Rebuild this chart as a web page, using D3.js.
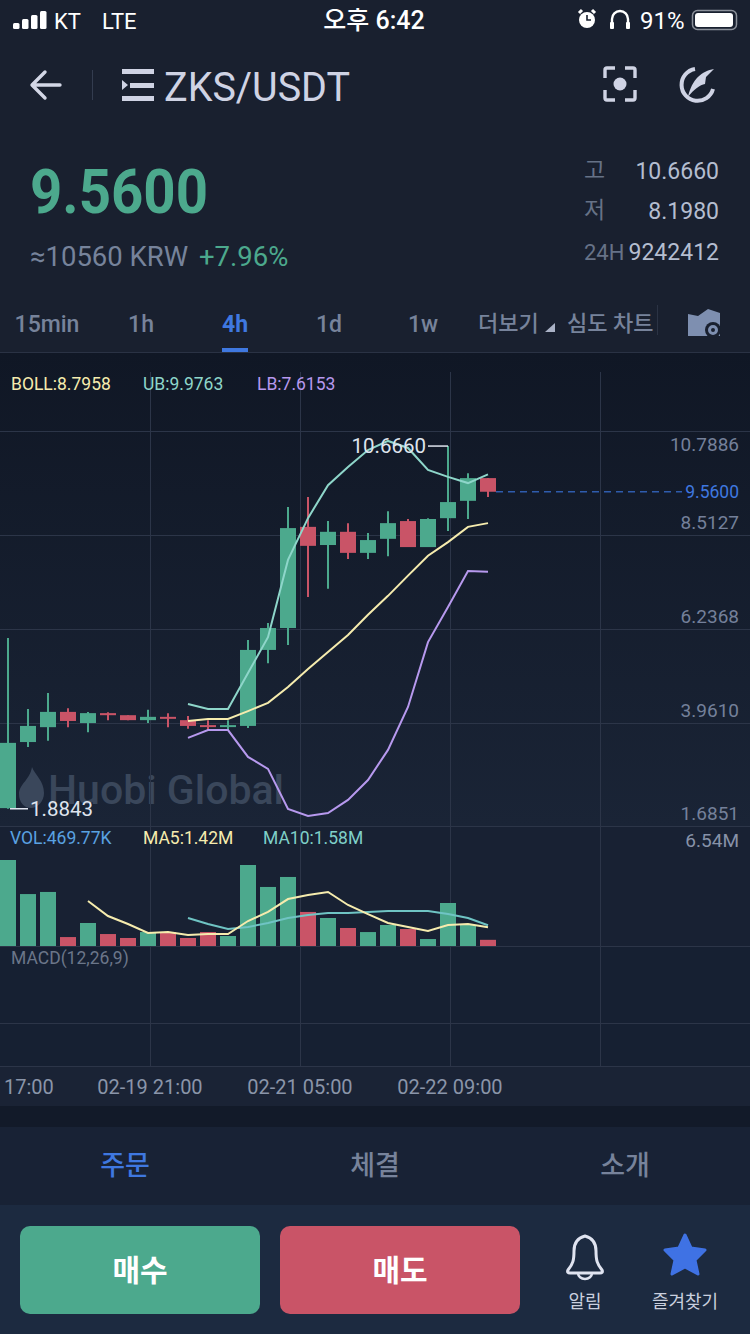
<!DOCTYPE html>
<html>
<head>
<meta charset="utf-8">
<script src="https://cdn.jsdelivr.net/npm/d3@7/dist/d3.min.js"></script>
<style>
html, body { margin: 0; padding: 0; background: #19202f; }
svg { display: block; }
text { font-family: Roboto, "Noto Sans CJK KR", sans-serif; }
</style>
</head>
<body>
<svg id="chart" width="750" height="1334"></svg>
<script>
// candles, oldest first
var opens  = [1.90, 3.50, 3.86, 4.23, 3.96, 4.20, 4.15, 4.03, 4.11, 4.03, 3.91, 3.88, 3.89, 5.73, 6.26, 8.71, 8.27, 8.59, 8.08, 8.42, 8.85, 8.22, 8.92, 9.34, 9.89];
var closes = [3.48, 3.89, 4.23, 4.01, 4.20, 4.15, 4.03, 4.11, 4.08, 3.89, 3.89, 3.91, 5.73, 6.26, 8.68, 8.25, 8.59, 8.08, 8.39, 8.80, 8.22, 8.90, 9.31, 9.89, 9.56];
var highs  = [6.02, 4.30, 4.69, 4.32, 4.23, 4.22, 4.15, 4.28, 4.20, 4.13, 4.03, 4.03, 5.97, 6.38, 9.19, 9.43, 8.85, 8.80, 8.56, 9.09, 8.90, 8.92, 10.666, 10.01, 9.89];
var lows   = [1.8843, 3.38, 3.53, 3.86, 3.74, 4.03, 4.03, 3.96, 3.86, 3.82, 3.79, 3.77, 3.84, 5.41, 5.85, 7.01, 7.21, 7.93, 7.93, 8.00, 8.22, 8.22, 8.61, 8.90, 9.43];

// bollinger bands start at candle 9
var bollMid = [4.01, 4.06, 4.06, 4.25, 4.45, 4.83, 5.27, 5.68, 6.09, 6.58, 7.04, 7.53, 8.01, 8.34, 8.71, 8.80];
var bollUp  = [4.42, 4.30, 4.30, 5.17, 6.04, 7.91, 8.92, 9.72, 10.16, 10.57, 10.79, 10.62, 10.09, 9.92, 9.77, 9.98];
var bollLow = [3.60, 3.79, 3.79, 3.14, 2.85, 1.88, 1.71, 1.78, 2.10, 2.58, 3.31, 4.35, 5.92, 6.77, 7.64, 7.62];

// volume in millions, ma5 starts at candle 4, ma10 at candle 9
var volumes = [6.54, 3.95, 4.11, 0.68, 1.75, 0.91, 0.61, 1.06, 1.06, 0.61, 1.06, 0.76, 6.16, 4.49, 5.25, 2.59, 2.13, 1.37, 1.06, 1.60, 1.29, 0.53, 3.27, 1.60, 0.47];
var ma5  = [3.42, 2.28, 1.67, 0.99, 1.06, 0.84, 0.91, 0.91, 1.90, 2.59, 3.57, 3.88, 4.11, 3.12, 2.43, 1.75, 1.44, 1.14, 1.60, 1.67, 1.42];
var ma10 = [2.13, 1.67, 1.29, 1.44, 1.75, 2.13, 2.36, 2.51, 2.51, 2.59, 2.66, 2.66, 2.66, 2.43, 2.13, 1.58];

var priceTicks = [10.7886, 8.5127, 6.2368, 3.9610, 1.6851];
var timeLabels = ["17:00", "02-19 21:00", "02-21 05:00", "02-22 09:00"];
var periods = ["15min", "1h", "4h", "1d", "1w"];
var lastPrice = 9.56;

var GREEN = "#4ca98d", RED = "#c95467", BLUE = "#3f78e0", GREY = "#77839b";
var GRID = "#2c3548", YELLOW = "#f6ecae", TEAL = "#8ed6ca", PURPLE = "#b799ee";

var svg = d3.select("#chart");
var defs = svg.append("defs");
var grad = defs.append("linearGradient").attr("id", "panel").attr("x1", 0).attr("x2", 0).attr("y1", 0).attr("y2", 1);
grad.append("stop").attr("offset", "0%").attr("stop-color", "#101725");
grad.append("stop").attr("offset", "100%").attr("stop-color", "#1a2436");

function label(g, x, y, str, size, color, anchor, weight) {
	return g.append("text")
		.attr("x", x).attr("y", y)
		.attr("font-size", size)
		.attr("fill", color)
		.attr("text-anchor", anchor || "start")
		.attr("font-weight", weight || 400)
		.text(str);
}

// backgrounds
svg.append("rect").attr("width", 750).attr("height", 1334).attr("fill", "#19202f");
svg.append("rect").attr("y", 353).attr("width", 750).attr("height", 473).attr("fill", "url(#panel)");
svg.append("rect").attr("y", 826).attr("width", 750).attr("height", 120).attr("fill", "#182133");
svg.append("rect").attr("y", 946).attr("width", 750).attr("height", 120).attr("fill", "#162032");
svg.append("rect").attr("y", 1066).attr("width", 750).attr("height", 40).attr("fill", "#1a2335");
svg.append("rect").attr("y", 1106).attr("width", 750).attr("height", 21).attr("fill", "#121a29");
svg.append("rect").attr("y", 1127).attr("width", 750).attr("height", 78).attr("fill", "#182235");
svg.append("rect").attr("y", 1205).attr("width", 750).attr("height", 129).attr("fill", "#1c2a40");

// status bar
var bar = svg.append("g");
bar.selectAll("rect.sig").data([5, 9, 13, 17]).enter().append("rect")
	.attr("x", function(d, i) { return 13 + i * 9; })
	.attr("y", function(d) { return 29 - d - 1; })
	.attr("width", 6.5).attr("height", function(d) { return d + 1; })
	.attr("rx", 1.5).attr("fill", "#fff");
label(bar, 54, 29, "KT", 22, "#fff");
label(bar, 102, 29, "LTE", 22, "#fff");
label(bar, 374, 29, "오후 6:42", 25, "#fff", "middle", 500);
label(bar, 640, 29, "91%", 24, "#fff");
bar.append("circle").attr("cx", 587).attr("cy", 20).attr("r", 8).attr("fill", "#fff");
bar.append("path").attr("d", "M587 15v5h4").attr("stroke", "#19202f").attr("stroke-width", 1.6).attr("fill", "none");
bar.append("path").attr("d", "M579 13l3-3M595 13l-3-3").attr("stroke", "#fff").attr("stroke-width", 3);
bar.append("path").attr("d", "M612 28v-9a8 8 0 0 1 16 0v9").attr("stroke", "#fff").attr("stroke-width", 2.4).attr("fill", "none");
bar.append("rect").attr("x", 610).attr("y", 22).attr("width", 4).attr("height", 7).attr("rx", 1).attr("fill", "#fff");
bar.append("rect").attr("x", 626).attr("y", 22).attr("width", 4).attr("height", 7).attr("rx", 1).attr("fill", "#fff");
bar.append("rect").attr("x", 692.5).attr("y", 10.5).attr("width", 44).attr("height", 19).attr("rx", 5).attr("fill", "none").attr("stroke", "#8b909a").attr("stroke-width", 1.5);
bar.append("rect").attr("x", 695).attr("y", 13).attr("width", 38).attr("height", 14).attr("rx", 3).attr("fill", "#fff");

// title row
var head = svg.append("g");
head.append("path").attr("d", "M60 85H33M45 72L32 85L45 98").attr("stroke", "#d3d7e6").attr("stroke-width", 3.4).attr("fill", "none").attr("stroke-linecap", "round").attr("stroke-linejoin", "round");
head.append("line").attr("x1", 92.5).attr("x2", 92.5).attr("y1", 70).attr("y2", 100).attr("stroke", "#333c4f");
head.append("path").attr("d", "M122 69h32v5h-32zM130 83h24v5h-24zM122 96h32v5h-32zM122 80l6 5-6 5z").attr("fill", "#cfd3e4");
label(head, 164, 101, "ZKS/USDT", 40, "#cfd3e4").attr("textLength", 186).attr("lengthAdjust", "spacingAndGlyphs");
head.append("path").attr("d", "M605 78v-8a2 2 0 0 1 2-2h8M625 68h8a2 2 0 0 1 2 2v8M635 90v8a2 2 0 0 1-2 2h-8M615 100h-8a2 2 0 0 1-2-2v-8").attr("stroke", "#cfd3e4").attr("stroke-width", 3.4).attr("fill", "none");
head.append("circle").attr("cx", 620).attr("cy", 84).attr("r", 6.5).attr("fill", "#cfd3e4");
head.append("path").attr("d", "M695 69a16 16 0 1 0 18 20").attr("stroke", "#cfd3e4").attr("stroke-width", 4).attr("fill", "none");
head.append("path").attr("d", "M714 69c-12 2-22 10-26 28c6-8 12-12 17-13l1-7z").attr("fill", "#cfd3e4");

// price summary
var sum = svg.append("g");
label(sum, 30, 213, "9.5600", 62, GREEN, "start", 700).attr("textLength", 178).attr("lengthAdjust", "spacingAndGlyphs");
label(sum, 30, 266, "≈10560 KRW", 27.5, "#76839b");
label(sum, 199, 266, "+7.96%", 27.5, GREEN);
label(sum, 584, 178, "고", 23, "#667287");
label(sum, 584, 218, "저", 23, "#667287");
label(sum, 584, 260, "24H", 22, "#667287");
label(sum, 719, 179, "10.6660", 23, "#b4bdd0", "end");
label(sum, 719, 219, "8.1980", 23, "#b4bdd0", "end");
label(sum, 719, 260, "9242412", 23, "#b4bdd0", "end");

// period tabs
var tabX = d3.scalePoint().domain(periods).range([47, 423]);
var tabs = svg.append("g");
tabs.selectAll("text").data(periods).enter().append("text")
	.attr("x", function(d) { return tabX(d); })
	.attr("y", 332)
	.attr("text-anchor", "middle")
	.attr("font-size", 23)
	.attr("font-weight", function(d) { return d === "4h" ? 700 : 500; })
	.attr("fill", function(d) { return d === "4h" ? BLUE : GREY; })
	.text(function(d) { return d; });
svg.append("rect").attr("x", 222).attr("y", 348).attr("width", 26).attr("height", 4).attr("fill", BLUE);
label(svg, 478, 331, "더보기", 22, GREY, "start", 500);
svg.append("path").attr("d", "M545 332h10v-9z").attr("fill", "#aab2c6");
label(svg, 567, 331, "심도 차트", 22, GREY, "start", 500);
svg.append("line").attr("x1", 657.5).attr("x2", 657.5).attr("y1", 305).attr("y2", 335).attr("stroke", "#2b3344");
svg.append("path").attr("d", "M688 336v-22l10 2 10-7 12 4v23z").attr("fill", "#7e8fb0");
svg.append("circle").attr("cx", 713).attr("cy", 330).attr("r", 8).attr("fill", "#19202f");
svg.append("circle").attr("cx", 713).attr("cy", 330).attr("r", 3.5).attr("fill", "none").attr("stroke", "#7e8fb0").attr("stroke-width", 3);
svg.append("line").attr("x1", 0).attr("x2", 750).attr("y1", 352.5).attr("y2", 352.5).attr("stroke", "#2a3244");

// scales
var plotTop = 431, plotBottom = 826;
var x = d3.scaleLinear().domain([0, 24]).range([8, 488]);
var y = d3.scaleLinear().domain([1.6851, 10.7886]).range([817, 441]);
var volY = d3.scaleLinear().domain([0, 6.54]).range([946, 860]);
var gridX = d3.scaleLinear().domain([0, 5]).range([0, 750]);
var candleW = 16;

// watermark sits under everything
var mark = svg.append("g");
label(mark, 48, 804, "Huobi Global", 41, "#3a475b", "start", 500);
mark.append("path").attr("d", "M32 767c3 8 12 14 12 26c0 8-6 15-13 15c-7 0-12-6-12-14c0-10 11-14 13-27z").attr("fill", "#3a475b");

// grid
var gridRows = [plotTop, y(priceTicks[1]), y(priceTicks[2]), y(priceTicks[3]), plotBottom, 946, 1023, 1066];
svg.append("g").selectAll("line").data(gridRows).enter().append("line")
	.attr("x1", 0).attr("x2", 750)
	.attr("y1", function(d) { return Math.round(d) + 0.5; })
	.attr("y2", function(d) { return Math.round(d) + 0.5; })
	.attr("stroke", GRID);
svg.append("g").selectAll("line").data(d3.range(1, 5)).enter().append("line")
	.attr("x1", function(d) { return gridX(d) + 0.5; })
	.attr("x2", function(d) { return gridX(d) + 0.5; })
	.attr("y1", 372).attr("y2", 1066)
	.attr("stroke", GRID);

// candles
function candleColor(i) { return closes[i] >= opens[i] ? GREEN : RED; }
var candles = svg.append("g").selectAll("g").data(d3.range(opens.length)).enter().append("g");
candles.append("line")
	.attr("x1", function(i) { return x(i); })
	.attr("x2", function(i) { return x(i); })
	.attr("y1", function(i) { return y(highs[i]); })
	.attr("y2", function(i) { return y(lows[i]); })
	.attr("stroke", candleColor)
	.attr("stroke-width", 2);
candles.append("rect")
	.attr("x", function(i) { return x(i) - candleW / 2; })
	.attr("y", function(i) { return y(Math.max(opens[i], closes[i])); })
	.attr("width", candleW)
	.attr("height", function(i) { return Math.max(2, Math.abs(y(opens[i]) - y(closes[i]))); })
	.attr("fill", candleColor);

// lines
function drawLine(values, start, yScale, color) {
	var line = d3.line()
		.x(function(d, i) { return x(i + start); })
		.y(function(d) { return yScale(d); });
	svg.append("path").datum(values)
		.attr("d", line)
		.attr("fill", "none")
		.attr("stroke", color)
		.attr("stroke-width", 2);
}
drawLine(bollUp, 9, y, TEAL);
drawLine(bollLow, 9, y, PURPLE);
drawLine(bollMid, 9, y, YELLOW);

// last price
svg.append("line")
	.attr("x1", x(24) + candleW / 2).attr("x2", 682)
	.attr("y1", y(lastPrice)).attr("y2", y(lastPrice))
	.attr("stroke", "#2f5cad").attr("stroke-width", 1.5).attr("stroke-dasharray", "7 5");
label(svg, 739, y(lastPrice) + 6, "9.5600", 17.5, BLUE, "end");

// high / low annotations
var hiY = y(highs[22]), loY = y(lows[0]);
svg.append("line").attr("x1", x(22) - 20).attr("x2", x(22)).attr("y1", hiY).attr("y2", hiY).attr("stroke", "#dfe4ee").attr("stroke-width", 1.5);
label(svg, x(22) - 22, hiY + 7, "10.6660", 20.5, "#dfe4ee", "end");
svg.append("line").attr("x1", x(0) + 2).attr("x2", x(0) + 20).attr("y1", loY).attr("y2", loY).attr("stroke", "#dfe4ee").attr("stroke-width", 1.5);
label(svg, x(0) + 22, loY + 7, "1.8843", 20.5, "#dfe4ee");

// price axis labels, they sit just above their row
svg.append("g").selectAll("text").data(priceTicks).enter().append("text")
	.attr("x", 739)
	.attr("y", function(d, i) {
		if (i === 0) return plotTop + 20;
		if (i === priceTicks.length - 1) return plotBottom - 6;
		return y(d) - 6;
	})
	.attr("text-anchor", "end")
	.attr("font-size", 19)
	.attr("fill", "#74809a")
	.text(function(d) { return d.toFixed(4); });

// indicator legends
label(svg, 11, 390, "BOLL:8.7958", 17.5, YELLOW);
label(svg, 143, 390, "UB:9.9763", 17.5, TEAL);
label(svg, 257, 390, "LB:7.6153", 17.5, PURPLE);

// volume
svg.append("g").selectAll("rect").data(volumes).enter().append("rect")
	.attr("x", function(d, i) { return x(i) - candleW / 2; })
	.attr("y", function(d) { return volY(d); })
	.attr("width", candleW)
	.attr("height", function(d) { return volY(0) - volY(d); })
	.attr("fill", function(d, i) { return candleColor(i); });
drawLine(ma10, 9, volY, "#6fc4c4");
drawLine(ma5, 4, volY, YELLOW);

label(svg, 10, 844, "VOL:469.77K", 17.5, "#5aa2e2");
label(svg, 143, 844, "MA5:1.42M", 17.5, YELLOW);
label(svg, 263, 844, "MA10:1.58M", 17.5, "#7fd0c8");
label(svg, 739, 847, "6.54M", 19, "#8792a8", "end");
label(svg, 11, 964, "MACD(12,26,9)", 17.5, "#6b7689");

// time axis
svg.append("g").selectAll("text").data(timeLabels).enter().append("text")
	.attr("x", function(d, i) { return i === 0 ? 4 : gridX(i); })
	.attr("y", 1094)
	.attr("text-anchor", function(d, i) { return i === 0 ? "start" : "middle"; })
	.attr("font-size", 20)
	.attr("fill", "#8a95a9")
	.text(function(d) { return d; });

// lower tabs
label(svg, 125, 1175, "주문", 27, BLUE, "middle", 500);
label(svg, 375, 1175, "체결", 27, GREY, "middle", 500);
label(svg, 625, 1175, "소개", 27, GREY, "middle", 500);

// buttons
svg.append("rect").attr("x", 20).attr("y", 1226).attr("width", 240).attr("height", 88).attr("rx", 10).attr("fill", GREEN);
svg.append("rect").attr("x", 280).attr("y", 1226).attr("width", 240).attr("height", 88).attr("rx", 10).attr("fill", RED);
label(svg, 140, 1281, "매수", 30, "#fff", "middle", 700);
label(svg, 400, 1281, "매도", 30, "#fff", "middle", 700);

// bell and star
svg.append("path").attr("d", "M585 1236c-8 2-11 8-11 15c0 9-1 13-6 19c-1 2 0 3 2 3h30c2 0 3-1 2-3c-5-6-6-10-6-19c0-7-3-13-11-15z")
	.attr("fill", "none").attr("stroke", "#dfe3f0").attr("stroke-width", 3);
svg.append("path").attr("d", "M578 1273a7 6 0 0 0 14 0").attr("fill", "none").attr("stroke", "#dfe3f0").attr("stroke-width", 2.5);
svg.append("path").attr("d", "M685 1235l6 13 14 2-10 10 3 14-13-7-13 7 3-14-10-10 14-2z")
	.attr("fill", "#3f72e4").attr("stroke", "#3f72e4").attr("stroke-width", 3).attr("stroke-linejoin", "round");
label(svg, 585, 1308, "알림", 18, "#c9cfde", "middle");
label(svg, 685, 1308, "즐겨찾기", 18, "#c9cfde", "middle");
</script>
</body>
</html>
